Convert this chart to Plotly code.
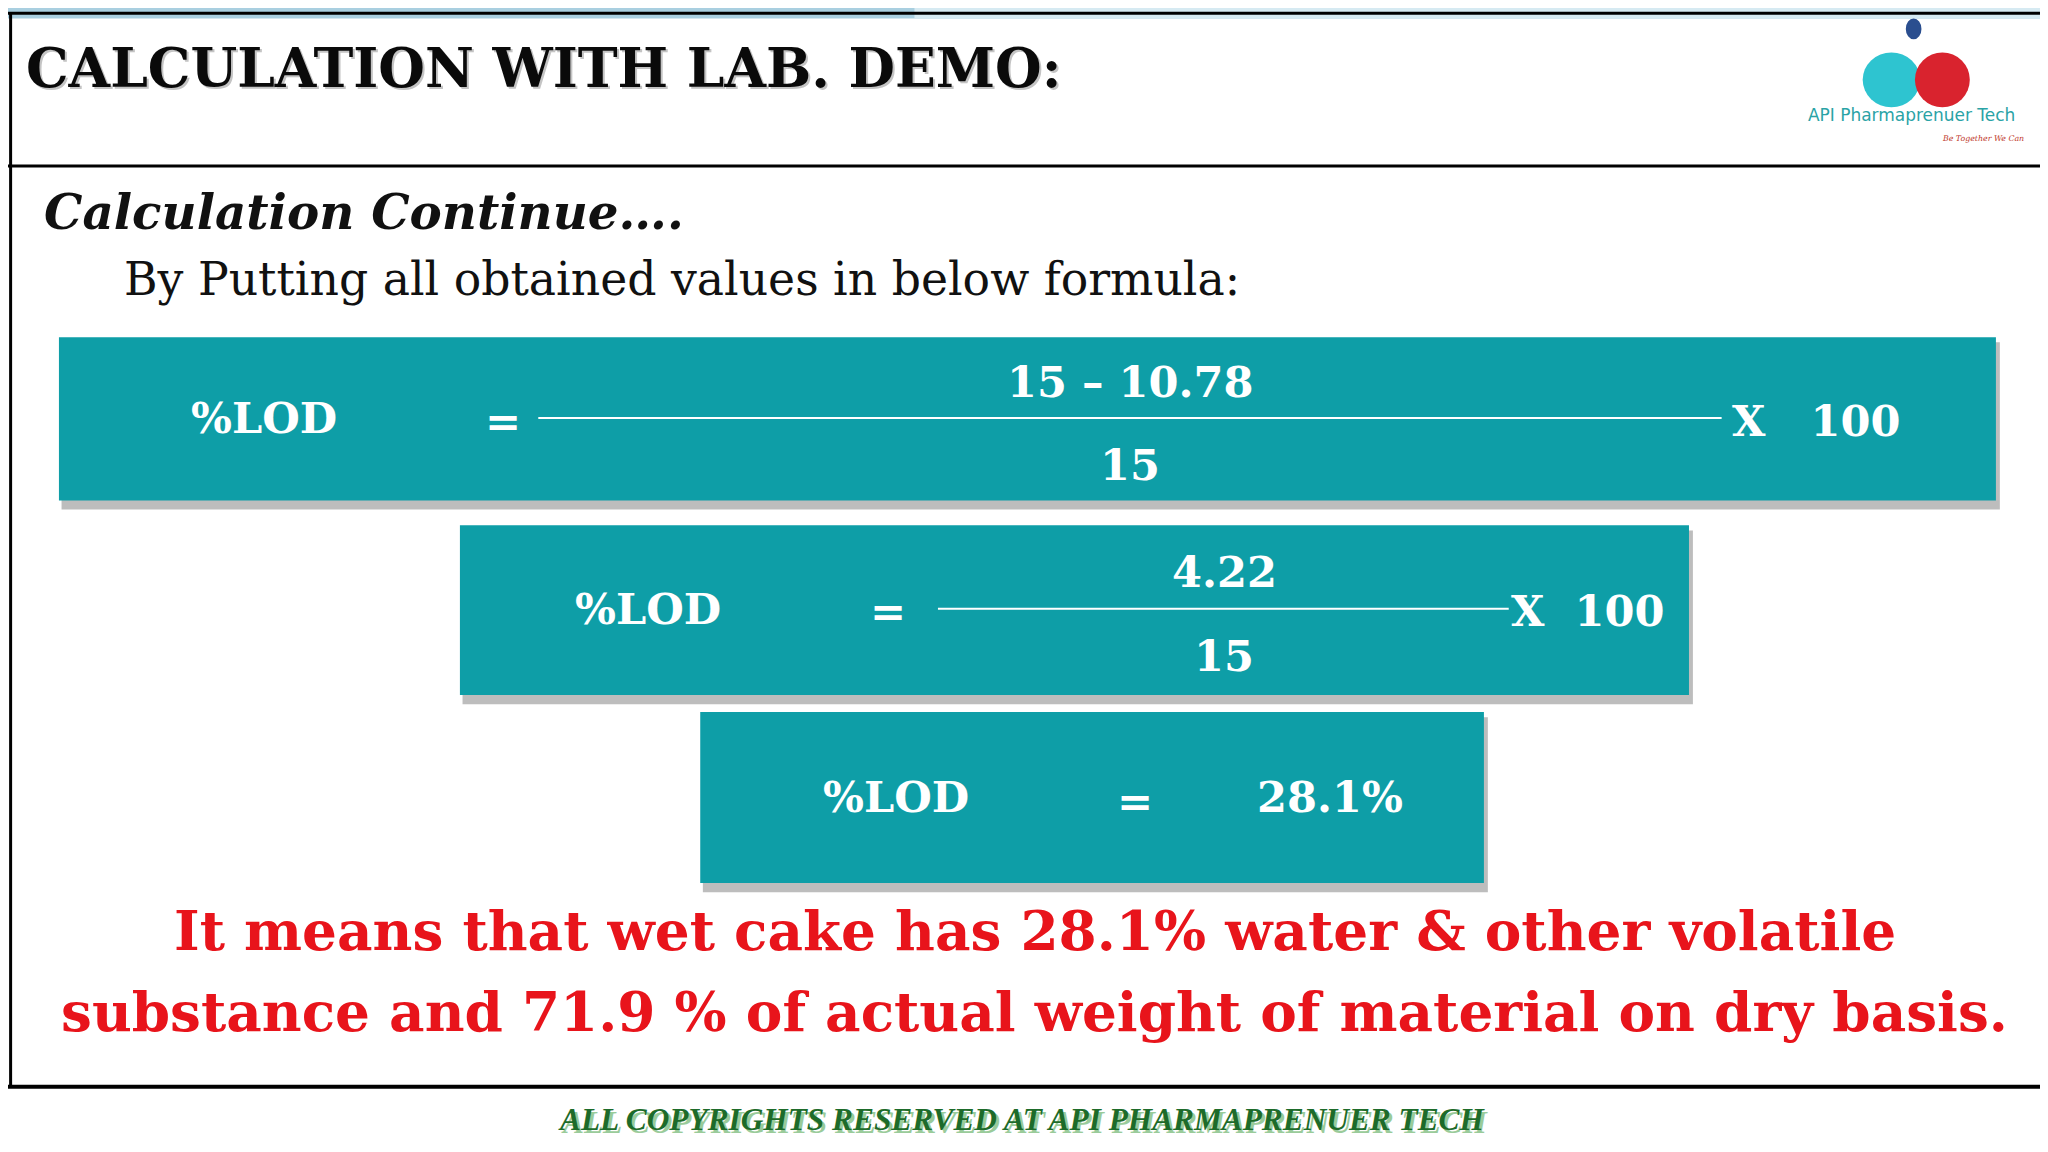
import plotly.graph_objects as go

W, H = 1568, 882
S = 2048 / 1568
OFF = 6  # compensates page margin

title = "CALCULATION WITH LAB. DEMO:"
subtitle = "Calculation Continue…."
intro = "By Putting all obtained values in below formula:"
initial_weight = "15"
dry_weight = "10.78"
difference = "4.22"
result = "28.1%"
conclusion = ["It means that wet cake has 28.1% water & other volatile",
              "substance and 71.9 % of actual weight of material on dry basis."]
footer = "ALL COPYRIGHTS RESERVED AT API PHARMAPRENUER TECH"

TEAL = "#0E9EA7"
SERIF = "DejaVu Serif"

fig = go.Figure()
shapes, ann = [], []

def rect(x0, y0, x1, y1, color):
    shapes.append(dict(type="rect", x0=x0, y0=y0, x1=x1, y1=y1, fillcolor=color,
                       line=dict(width=0), layer="below"))

def txt(x, y, t, size, color="white", anchor="center", bold=False, italic=False, font=SERIF):
    if bold: t = f"<b>{t}</b>"
    if italic: t = f"<i>{t}</i>"
    ann.append(dict(x=x, y=y, text=t, showarrow=False, xanchor=anchor, yanchor="middle",
                    font=dict(family=font, size=size * S, color=color)))

def hline(x0, x1, y, color="white", w=2):
    shapes.append(dict(type="line", x0=x0, x1=x1, y0=y, y1=y, line=dict(color=color, width=w)))

rect(0, 0, W + 10, 8 + OFF, "#A9CFE0")
rect(700, 0, W + 10, 8 + OFF, "#D6EAF2")
hline(0, W + 10, 10, "black", 3)
hline(0, W + 10, 127, "black", 3)
hline(0, W + 10, 832, "black", 4)
shapes.append(dict(type="line", x0=OFF + 2, x1=OFF + 2, y0=10, y1=832, line=dict(color="black", width=3)))
shapes.append(dict(type="line", x0=1566, x1=1566, y0=10, y1=832, line=dict(color="black", width=3)))

txt(20, 54, title, 41, "#C4C4C4", "left", bold=True)
txt(18, 52, title, 41, "#0A0A0A", "left", bold=True)

shapes.append(dict(type="circle", x0=1426, y0=40, x1=1470, y1=82, fillcolor="#2EC4D0", line=dict(width=0)))
shapes.append(dict(type="circle", x0=1466, y0=40, x1=1508, y1=82, fillcolor="#D9232E", line=dict(width=0)))
shapes.append(dict(type="circle", x0=1459, y0=14, x1=1471, y1=30, fillcolor="#2A4E8F", line=dict(width=0)))
txt(1463, 88, "API Pharmaprenuer Tech", 13, "#2AA3A6", font="DejaVu Sans")
txt(1518, 106, "Be Together We Can", 6, "#C0392B", italic=True)

txt(32, 162, subtitle, 37, "#111111", "left", bold=True, italic=True)
txt(93, 214, intro, 35, "#111111", "left")

for (x0, y0, x1, y1) in [(45, 258, 1528, 383), (352, 402, 1293, 532), (536, 545, 1136, 676)]:
    rect(x0 + 2, y0 + 4, x1 + 3, y1 + 7, "#BDBDBD")
    rect(x0, y0, x1, y1, TEAL)

fs = 33
txt(202, 320, "%LOD", fs, bold=True)
txt(385, 322, "=", fs, bold=True)
hline(412, 1318, 320)
txt(865, 292, f"{initial_weight} – {dry_weight}", fs, bold=True)
txt(865, 356, initial_weight, fs, bold=True)
txt(1390, 322, "X   100", fs, bold=True)

txt(496, 466, "%LOD", fs, bold=True)
txt(680, 468, "=", fs, bold=True)
hline(718, 1155, 466)
txt(937, 438, difference, fs, bold=True)
txt(937, 502, initial_weight, fs, bold=True)
txt(1215, 468, "X  100", fs, bold=True)

txt(686, 610, "%LOD", fs, bold=True)
txt(869, 613, "=", fs, bold=True)
txt(1018, 610, result, fs, bold=True)

txt(792, 712, conclusion[0], 42, "#E8141B", bold=True)
txt(792, 774, conclusion[1], 42, "#E8141B", bold=True)

txt(784, 859, footer, 24, "#9ACB9A", bold=True, italic=True, font="Liberation Serif")
txt(782, 857, footer, 24, "#1D6B2A", bold=True, italic=True, font="Liberation Serif")

fig.update_layout(width=2048, height=1152, margin=dict(l=0, r=0, t=0, b=0),
                  paper_bgcolor="white", plot_bgcolor="white", shapes=shapes, annotations=ann,
                  xaxis=dict(range=[OFF, W + OFF], visible=False, fixedrange=True),
                  yaxis=dict(range=[H + OFF, OFF], visible=False, fixedrange=True),
                  showlegend=False)
fig.write_html("out.html", config={"displayModeBar": False})
